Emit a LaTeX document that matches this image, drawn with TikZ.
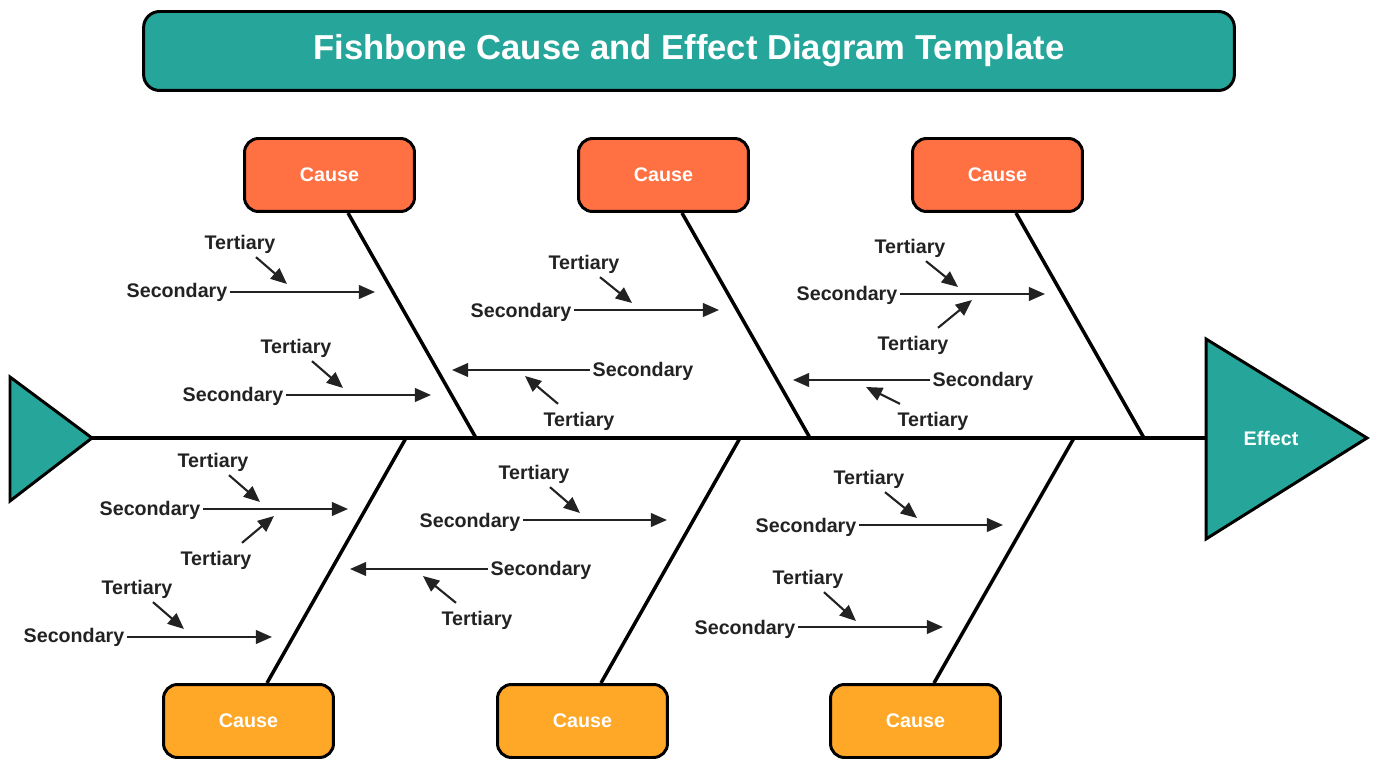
\documentclass[tikz,border=0pt]{standalone}
\usepackage{fontspec}
\setmainfont{Liberation Sans}
\usepackage{tikz}
\usetikzlibrary{arrows.meta}
\definecolor{fishteal}{RGB}{38,166,154}
\definecolor{causered}{RGB}{255,112,67}
\definecolor{causeyellow}{RGB}{255,167,38}
\definecolor{inkgray}{RGB}{34,34,34}

\begin{document}
\begin{tikzpicture}[x=0.02cm, y=-0.02cm, >={Triangle[length=9.2pt,width=7.8pt]},
    bone/.style={line width=2pt, black},
    arr/.style={->, line width=1.2pt, inkgray},
    lbl/.style={font=\bfseries\fontsize{11.2}{13}\selectfont, text=inkgray, inner sep=1.5pt, yshift=-0.05cm},
    cause/.style={draw=black, line width=1.7pt, rounded corners=0.28cm,
        minimum width=3.4cm, minimum height=1.46cm, text=white,
        font=\bfseries\fontsize{11.2}{13}\selectfont}]
    \useasboundingbox (0,0) rectangle (1377,770);

    % Title
    \node [draw=black, line width=1.7pt, rounded corners=0.32cm, fill=fishteal,
        minimum width=21.82cm, minimum height=1.58cm, text=white,
        font=\bfseries\fontsize{19.7}{23}\selectfont] (title) at (689,51)
        {Fishbone Cause and Effect Diagram Template};

    % Spine
    \coordinate (tail) at (92,438);
    \coordinate (head) at (1206,438);
    \draw [bone] (tail) -- (head);
    \draw [line width=1.7pt, fill=fishteal, line join=miter] (10,377) -- (tail) -- (10,501) -- cycle;
    \draw [line width=1.7pt, fill=fishteal, line join=miter] (1206,339) -- (1367,438) -- (1206,539) -- cycle;
    \node [text=white, font=\bfseries\fontsize{11.2}{13}\selectfont] (effect) at (1271,438) {Effect};

    % Causes on top
    \node [cause, fill=causered] (ct1) at (329.5,175) {Cause};
    \node [cause, fill=causered] (ct2) at (663.5,175) {Cause};
    \node [cause, fill=causered] (ct3) at (997.5,175) {Cause};
    % Causes below
    \node [cause, fill=causeyellow] (cb1) at (248.5,721) {Cause};
    \node [cause, fill=causeyellow] (cb2) at (582.5,721) {Cause};
    \node [cause, fill=causeyellow] (cb3) at (915.5,721) {Cause};

    % Bones
    \coordinate (jt1) at (476,438);
    \coordinate (jt2) at (810,438);
    \coordinate (jt3) at (1144,438);
    \coordinate (jb1) at (406,438);
    \coordinate (jb2) at (740,438);
    \coordinate (jb3) at (1074,438);
    \draw [bone] ([xshift=0.37cm]ct1.south) -- (jt1);
    \draw [bone] ([xshift=0.37cm]ct2.south) -- (jt2);
    \draw [bone] ([xshift=0.37cm]ct3.south) -- (jt3);
    \draw [bone] (jb1) -- ([xshift=0.37cm]cb1.north);
    \draw [bone] (jb2) -- ([xshift=0.37cm]cb2.north);
    \draw [bone] (jb3) -- ([xshift=0.37cm]cb3.north);

    % Top left branch
    \node [lbl] (ter11) at (240,242) {Tertiary};
    \node [lbl] (sec11) at (177,290) {Secondary};
    \node [lbl] (ter12) at (296,346) {Tertiary};
    \node [lbl] (sec12) at (233,394) {Secondary};
    \coordinate (a11) at (375,292);
    \coordinate (a12) at (431,395);
    \coordinate (h11) at (287,284);
    \coordinate (h12) at (343,388);
    \draw [arr] (sec11.east |- a11) -- (a11);
    \draw [arr] (sec12.east |- a12) -- (a12);
    \draw [arr] ([shift={(16,0.5)}]ter11.south) -- (h11);
    \draw [arr] ([shift={(16,0.5)}]ter12.south) -- (h12);

    % Top middle branch
    \node [lbl] (ter21) at (584,262) {Tertiary};
    \node [lbl] (sec21) at (521,310) {Secondary};
    \node [lbl] (sec22) at (643,369) {Secondary};
    \node [lbl] (ter22) at (579,419) {Tertiary};
    \coordinate (a21) at (719,310);
    \coordinate (a22) at (452,370);
    \coordinate (h21) at (632,303);
    \coordinate (h22) at (525,376);
    \draw [arr] (sec21.east |- a21) -- (a21);
    \draw [arr] (sec22.west |- a22) -- (a22);
    \draw [arr] ([shift={(16,0.5)}]ter21.south) -- (h21);
    \draw [arr] ([shift={(-21,-5.5)}]ter22.north) -- (h22);

    % Top right branch
    \node [lbl] (ter31) at (910,246) {Tertiary};
    \node [lbl] (sec31) at (847,293) {Secondary};
    \node [lbl] (ter32) at (913,343) {Tertiary};
    \node [lbl] (sec32) at (983,379) {Secondary};
    \node [lbl] (ter33) at (933,419) {Tertiary};
    \coordinate (a31) at (1045,294);
    \coordinate (a32) at (793,380);
    \coordinate (h31) at (958,287);
    \coordinate (h32) at (972,300);
    \coordinate (h33) at (866,387);
    \draw [arr] (sec31.east |- a31) -- (a31);
    \draw [arr] (sec32.west |- a32) -- (a32);
    \draw [arr] ([shift={(16,0.5)}]ter31.south) -- (h31);
    \draw [arr] ([shift={(25,-5.5)}]ter32.north) -- (h32);
    \draw [arr] ([shift={(-33,-5.5)}]ter33.north) -- (h33);

    % Bottom left branch
    \node [lbl] (ter41) at (213,460) {Tertiary};
    \node [lbl] (sec41) at (150,508) {Secondary};
    \node [lbl] (ter42) at (216,558) {Tertiary};
    \node [lbl] (ter43) at (137,587) {Tertiary};
    \node [lbl] (sec42) at (74,635) {Secondary};
    \coordinate (a41) at (348,509);
    \coordinate (a42) at (272,637);
    \coordinate (h41) at (260,502);
    \coordinate (h42) at (274,516);
    \coordinate (h43) at (184,629);
    \draw [arr] (sec41.east |- a41) -- (a41);
    \draw [arr] (sec42.east |- a42) -- (a42);
    \draw [arr] ([shift={(16,0.5)}]ter41.south) -- (h41);
    \draw [arr] ([shift={(26,-5.5)}]ter42.north) -- (h42);
    \draw [arr] ([shift={(16,0.5)}]ter43.south) -- (h43);

    % Bottom middle branch
    \node [lbl] (ter51) at (534,472) {Tertiary};
    \node [lbl] (sec51) at (470,520) {Secondary};
    \node [lbl] (sec52) at (541,568) {Secondary};
    \node [lbl] (ter52) at (477,618) {Tertiary};
    \coordinate (a51) at (667,520);
    \coordinate (a52) at (350,569);
    \coordinate (h51) at (580,513);
    \coordinate (h52) at (423,576);
    \draw [arr] (sec51.east |- a51) -- (a51);
    \draw [arr] (sec52.west |- a52) -- (a52);
    \draw [arr] ([shift={(16,0.5)}]ter51.south) -- (h51);
    \draw [arr] ([shift={(-21,-5.5)}]ter52.north) -- (h52);

    % Bottom right branch
    \node [lbl] (ter61) at (869,477) {Tertiary};
    \node [lbl] (sec61) at (806,525) {Secondary};
    \node [lbl] (ter62) at (808,577) {Tertiary};
    \node [lbl] (sec62) at (745,627) {Secondary};
    \coordinate (a61) at (1003,525);
    \coordinate (a62) at (943,627);
    \coordinate (h61) at (917,518);
    \coordinate (h62) at (856,621);
    \draw [arr] (sec61.east |- a61) -- (a61);
    \draw [arr] (sec62.east |- a62) -- (a62);
    \draw [arr] ([shift={(16,0.5)}]ter61.south) -- (h61);
    \draw [arr] ([shift={(16,0.5)}]ter62.south) -- (h62);
\end{tikzpicture}
\end{document}
